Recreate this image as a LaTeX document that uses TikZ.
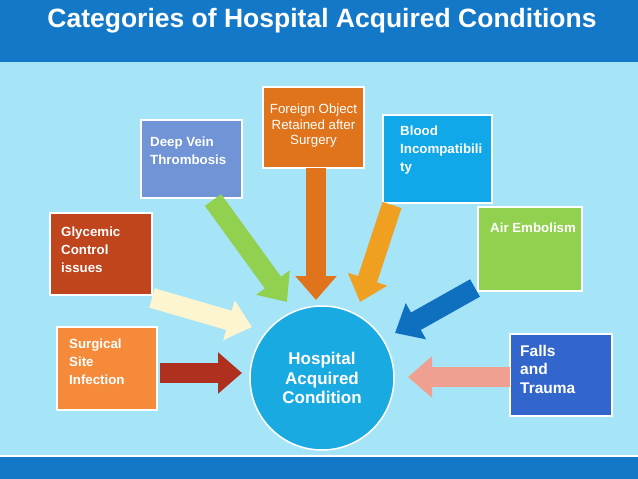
\documentclass[tikz,border=0pt]{standalone}
\usepackage{fontspec}
\setmainfont{Liberation Sans}
\usetikzlibrary{arrows.meta}
\definecolor{bar}{HTML}{1478C8}
\definecolor{bg}{HTML}{A6E4F8}
\tikzset{
 txt/.style={anchor=north west,inner sep=0pt,text=white,align=left,font=\bfseries\fontsize{13.3}{18}\selectfont},
 cell/.style={draw=white,line width=1.2pt},
 blk/.style={line width=20pt,-{Triangle[width=40pt,length=24pt]}},
}
\begin{document}
\begin{tikzpicture}[x=1pt,y=-1pt]
\useasboundingbox (0,0) rectangle (638,479);
\fill[bar] (0,0) rectangle (638,62);
\fill[bg] (0,62) rectangle (638,455);
\fill[bar] (0,457) rectangle (638,479);
\node[text=white,font=\bfseries\fontsize{26.5}{30}\selectfont] (title) at (322,21) {Categories of Hospital Acquired Conditions};
% boxes
\path[cell,fill={rgb,255:red,245;green,138;blue,58}] (57,327) rectangle (157,410);
\node[txt] (ssi) at (69,339) {Surgical\\Site\\Infection};
\path[cell,fill={rgb,255:red,192;green,68;blue,28}] (50,213) rectangle (152,295);
\node[txt] (gly) at (61,227) {Glycemic\\Control\\issues};
\path[cell,fill={rgb,255:red,112;green,148;blue,214}] (141,120) rectangle (242,198);
\node[txt] (dvt) at (150,137) {Deep Vein\\Thrombosis};
\path[cell,fill={rgb,255:red,224;green,116;blue,28}] (263,87) rectangle (364,168);
\node[txt,align=center,anchor=north,font=\fontsize{13.3}{15.5}\selectfont] (fo) at (313.5,104) {Foreign Object\\Retained after\\Surgery};
\path[cell,fill={rgb,255:red,16;green,168;blue,232}] (383,115) rectangle (492,203);
\node[txt] (bi) at (400,126) {Blood\\Incompatibili\\ty};
\path[cell,fill={rgb,255:red,146;green,208;blue,80}] (478,207) rectangle (582,291);
\node[txt] (ae) at (490,223) {Air Embolism};
\path[cell,fill={rgb,255:red,51;green,102;blue,204}] (510,334) rectangle (612,416);
\node[txt,font=\bfseries\fontsize{15.5}{18.5}\selectfont] (ft) at (520,345) {Falls\\and\\Trauma};
% circle
\node[circle,draw=white,line width=1.5pt,fill={rgb,255:red,26;green,170;blue,226},minimum size=144pt,inner sep=0pt,text=white,align=center,font=\bfseries\fontsize{17}{19.5}\selectfont] (hac) at (322,378) {Hospital\\Acquired\\Condition};
% arrows
\coordinate (a1) at (160,373); \coordinate (b1) at (242,373);
\coordinate (a2) at (152,298); \coordinate (b2) at (252,327);
\coordinate (a3) at (213,200); \coordinate (b3) at (287,302);
\coordinate (a4) at (316,168); \coordinate (b4) at (316,300);
\coordinate (a5) at (392,205); \coordinate (b5) at (360,302);
\coordinate (a6) at (475,288); \coordinate (b6) at (395,333);
\coordinate (a7) at (510,377); \coordinate (b7) at (408,377);
\draw[blk,draw={rgb,255:red,176;green,48;blue,32}] (a1) -- (b1);
\draw[blk,draw={rgb,255:red,253;green,245;blue,208}] (a2) -- (b2);
\draw[blk,draw={rgb,255:red,146;green,208;blue,80}] (a3) -- (b3);
\draw[blk,draw={rgb,255:red,224;green,116;blue,28}] (a4) -- (b4);
\draw[blk,draw={rgb,255:red,240;green,160;blue,32}] (a5) -- (b5);
\draw[blk,draw={rgb,255:red,16;green,112;blue,192}] (a6) -- (b6);
\draw[blk,draw={rgb,255:red,240;green,160;blue,144}] (a7) -- (b7);
\end{tikzpicture}
\end{document}
